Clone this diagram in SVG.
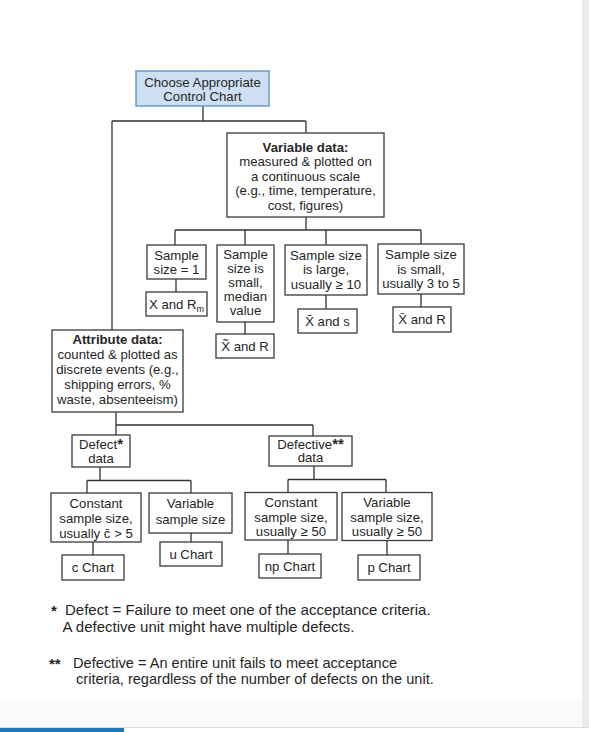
<svg xmlns="http://www.w3.org/2000/svg" width="589" height="732" viewBox="0 0 589 732">
<style>
.bx{fill:#fff;stroke:#3a3a3a;stroke-width:1.3}
.top{fill:#cddff0;stroke:#6a9cca;stroke-width:1.5}
.t{font-family:"Liberation Sans",Arial,sans-serif;font-size:13.2px;fill:#262626;text-anchor:middle}
.b{font-weight:bold}
.st{font-weight:bold;font-size:15px}
.fn{font-family:"Liberation Sans",Arial,sans-serif;font-size:15px;fill:#262626}
.fn2{font-family:"Liberation Sans",Arial,sans-serif;font-size:14.6px;fill:#262626}
.cn{fill:none;stroke:#333;stroke-width:1.3}
</style>
<rect x="0" y="0" width="589" height="732" fill="#fff"/>
<rect x="0" y="700" width="582" height="27" fill="#fafafa"/>
<rect x="582" y="0" width="7" height="727" fill="#ebebeb"/>
<line x1="0" y1="727.5" x2="589" y2="727.5" stroke="#dcdcdc" stroke-width="1"/>
<rect x="0" y="728" width="124" height="4" fill="#1f78b9"/>

<g id="connectors" class="cn">
<path d="M203 106V121M112 121H306M112 121V330M306 121V133"/>
<path d="M306 217V230M175 230H421M175 230V245M245 230V245M326 230V245M421 230V244"/>
<path d="M176 279V292M245 322V334M326 295V309M421 294V307"/>
<path d="M116 412V435M116 425H313M313 425V436"/>
<path d="M100 467V480.5M87 480.5H191M87 480.5V493M191 480.5V493"/>
<path d="M93 542V555M191 533V542"/>
<path d="M314 466V479.5M288 479.5H386M288 479.5V492.5M386 479.5V492.5"/>
<path d="M288 540V554M387 540.5V555"/>
</g>

<g id="choose">
<rect class="top" x="136" y="71" width="133" height="35"/>
<text class="t" x="202.5" y="87">Choose Appropriate</text>
<text class="t" x="202.5" y="101">Control Chart</text>
</g>

<g id="variable">
<rect class="bx" x="227" y="133" width="157" height="84"/>
<text class="t b" x="305.5" y="151.5">Variable data:</text>
<text class="t" x="305.5" y="166">measured &amp; plotted on</text>
<text class="t" x="305.5" y="180.5">a continuous scale</text>
<text class="t" x="305.5" y="195">(e.g., time, temperature,</text>
<text class="t" x="305.5" y="209.5">cost, figures)</text>
</g>

<g id="size1">
<rect class="bx" x="147" y="245" width="59" height="34"/>
<text class="t" x="176.5" y="260">Sample</text>
<text class="t" x="176.5" y="274">size = 1</text>
</g>
<g id="xrm">
<rect class="bx" x="146" y="292" width="61" height="24"/>
<text class="t" x="176.5" y="308.5">X and R<tspan font-size="9" dy="3">m</tspan></text>
</g>

<g id="median">
<rect class="bx" x="217" y="245" width="57" height="77"/>
<text class="t" x="245.5" y="258.5">Sample</text>
<text class="t" x="245.5" y="272.5">size is</text>
<text class="t" x="245.5" y="286.5">small,</text>
<text class="t" x="245.5" y="300.5">median</text>
<text class="t" x="245.5" y="314.5">value</text>
</g>
<g id="xtilde">
<rect class="bx" x="216" y="334" width="58" height="24"/>
<text class="t" x="245" y="351">X̃ and R</text>
</g>

<g id="large">
<rect class="bx" x="285" y="245" width="82" height="50"/>
<text class="t" x="326" y="259.5">Sample size</text>
<text class="t" x="326" y="274">is large,</text>
<text class="t" x="326" y="288.5">usually ≥ 10</text>
</g>
<g id="xbars">
<rect class="bx" x="298" y="309" width="59" height="24"/>
<text class="t" x="327.5" y="326">X̄ and s</text>
</g>

<g id="small35">
<rect class="bx" x="378" y="244" width="86" height="50"/>
<text class="t" x="421" y="259">Sample size</text>
<text class="t" x="421" y="273.5">is small,</text>
<text class="t" x="421" y="288">usually 3 to 5</text>
</g>
<g id="xbarr">
<rect class="bx" x="393" y="307" width="58" height="25"/>
<text class="t" x="422" y="324">X̄ and R</text>
</g>

<g id="attribute">
<rect class="bx" x="52" y="330" width="131" height="82"/>
<text class="t b" x="117.5" y="343.5">Attribute data:</text>
<text class="t" x="117.5" y="359">counted &amp; plotted as</text>
<text class="t" x="117.5" y="374">discrete events (e.g.,</text>
<text class="t" x="117.5" y="389">shipping errors, %</text>
<text class="t" x="117.5" y="404">waste, absenteeism)</text>
</g>

<g id="defect">
<rect class="bx" x="72" y="435" width="58" height="32"/>
<text class="t" x="101" y="448.5">Defect<tspan class="st">*</tspan></text>
<text class="t" x="101" y="462.5">data</text>
</g>

<g id="defective">
<rect class="bx" x="269" y="436" width="83" height="30"/>
<text class="t" x="310.5" y="448.5">Defective<tspan class="st">**</tspan></text>
<text class="t" x="310.5" y="462">data</text>
</g>

<g id="constc">
<rect class="bx" x="51" y="493" width="90" height="49"/>
<text class="t" x="96" y="507.5">Constant</text>
<text class="t" x="96" y="522.5">sample size,</text>
<text class="t" x="96" y="537.5">usually c̄ &gt; 5</text>
</g>
<g id="cchart">
<rect class="bx" x="62" y="555" width="62" height="25"/>
<text class="t" x="93" y="572">c Chart</text>
</g>

<g id="varu">
<rect class="bx" x="149" y="493" width="83" height="40"/>
<text class="t" x="190.5" y="508">Variable</text>
<text class="t" x="190.5" y="523.5">sample size</text>
</g>
<g id="uchart">
<rect class="bx" x="160" y="542" width="62" height="24"/>
<text class="t" x="191" y="559">u Chart</text>
</g>

<g id="constnp">
<rect class="bx" x="245" y="492.5" width="92" height="47.5"/>
<text class="t" x="291" y="506.5">Constant</text>
<text class="t" x="291" y="521.5">sample size,</text>
<text class="t" x="291" y="536">usually ≥ 50</text>
</g>
<g id="npchart">
<rect class="bx" x="259" y="554" width="62" height="24"/>
<text class="t" x="290" y="570.5">np Chart</text>
</g>

<g id="varp">
<rect class="bx" x="342" y="492.5" width="90" height="48"/>
<text class="t" x="387" y="506.5">Variable</text>
<text class="t" x="387" y="521.5">sample size,</text>
<text class="t" x="387" y="536">usually ≥ 50</text>
</g>
<g id="pchart">
<rect class="bx" x="358" y="555" width="62" height="25"/>
<text class="t" x="389" y="572">p Chart</text>
</g>

<g id="footnotes">
<text class="fn b" x="51" y="616" font-size="16">*</text>
<text class="fn" x="65" y="615">Defect = Failure to meet one of the acceptance criteria.</text>
<text class="fn" x="62.5" y="632">A defective unit might have multiple defects.</text>
<text class="fn b" x="49" y="668.5" font-size="16">**</text>
<text class="fn2" x="73" y="667.5">Defective = An entire unit fails to meet acceptance</text>
<text class="fn2" x="76" y="684">criteria, regardless of the number of defects on the unit.</text>
</g>
</svg>
